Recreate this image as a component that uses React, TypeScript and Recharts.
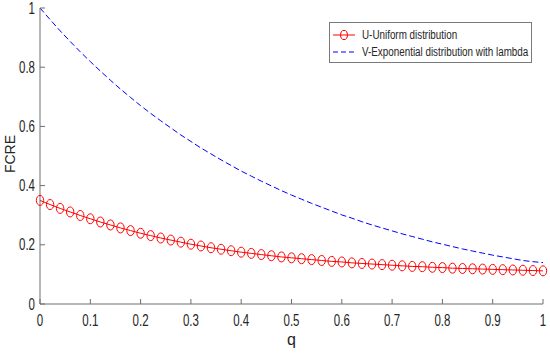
import { LineChart, Line, XAxis, YAxis, Label } from 'recharts';

// q grid, step 0.02
const qValues = [
  0, 0.02, 0.04, 0.06, 0.08, 0.1, 0.12, 0.14, 0.16, 0.18,
  0.2, 0.22, 0.24, 0.26, 0.28, 0.3, 0.32, 0.34, 0.36, 0.38,
  0.4, 0.42, 0.44, 0.46, 0.48, 0.5, 0.52, 0.54, 0.56, 0.58,
  0.6, 0.62, 0.64, 0.66, 0.68, 0.7, 0.72, 0.74, 0.76, 0.78,
  0.8, 0.82, 0.84, 0.86, 0.88, 0.9, 0.92, 0.94, 0.96, 0.98, 1,
];

// U - uniform distribution (red, circles)
const uniformValues = [
  0.350, 0.336, 0.323, 0.311, 0.299, 0.288, 0.277, 0.267, 0.257, 0.248,
  0.239, 0.231, 0.223, 0.216, 0.209, 0.202, 0.196, 0.190, 0.185, 0.180,
  0.175, 0.171, 0.167, 0.163, 0.159, 0.156, 0.153, 0.150, 0.147, 0.144,
  0.142, 0.139, 0.137, 0.135, 0.133, 0.131, 0.129, 0.127, 0.126, 0.124,
  0.123, 0.121, 0.120, 0.119, 0.118, 0.117, 0.116, 0.115, 0.114, 0.113, 0.112,
];

// V - exponential distribution with lambda (blue, dashed)
const exponentialValues = [
  1.000, 0.961, 0.923, 0.887, 0.852, 0.819, 0.787, 0.756, 0.726, 0.698,
  0.670, 0.644, 0.619, 0.595, 0.571, 0.549, 0.527, 0.507, 0.487, 0.468,
  0.449, 0.432, 0.415, 0.399, 0.383, 0.368, 0.354, 0.340, 0.327, 0.314,
  0.301, 0.290, 0.278, 0.267, 0.257, 0.247, 0.237, 0.228, 0.219, 0.210,
  0.202, 0.194, 0.186, 0.179, 0.172, 0.165, 0.159, 0.153, 0.147, 0.143, 0.140,
];

const xTicks = [0, 0.1, 0.2, 0.3, 0.4, 0.5, 0.6, 0.7, 0.8, 0.9, 1];
const yTicks = [0, 0.2, 0.4, 0.6, 0.8, 1];

const seriesNames = ['U-Uniform distribution', 'V-Exponential distribution with lambda'];

const data = qValues.map((q, i) => ({ q, u: uniformValues[i], v: exponentialValues[i] }));

const FONT = "'Liberation Sans', Arial, sans-serif";
const AXIS = '#6e6e6e';
const TEXT = '#262626';

function XTick({ x, y, payload }: any) {
  return (
    <text
      x={0}
      y={0}
      transform={`translate(${x},${y}) scale(0.72,1)`}
      textAnchor="middle"
      dy="0.71em"
      fontSize={16}
      fontFamily={FONT}
      fill={TEXT}
    >
      {payload.value}
    </text>
  );
}

function YTick({ x, y, payload }: any) {
  return (
    <text
      x={0}
      y={0}
      transform={`translate(${x},${y}) scale(0.72,1)`}
      textAnchor="end"
      dy="0.355em"
      fontSize={16}
      fontFamily={FONT}
      fill={TEXT}
    >
      {payload.value}
    </text>
  );
}

function Ring(props: any) {
  const { cx, cy, index } = props;
  if (cx == null || cy == null) return <g key={index} />;
  return (
    <ellipse key={index} cx={cx} cy={cy} rx={3.7} ry={5} fill="none" stroke="#ff0000" strokeWidth={1} />
  );
}

function ChartLegend() {
  const row = { display: 'flex', alignItems: 'center', height: 17 } as const;
  const sample = { marginLeft: 2, flexShrink: 0 } as const;
  const txt = {
    display: 'inline-block',
    transform: 'scaleX(0.82)',
    transformOrigin: 'left center',
    whiteSpace: 'nowrap',
  } as const;
  return (
    <div style={{
      position: 'absolute',
      left: 329,
      top: 22,
      width: 203,
      height: 41,
      border: '1px solid #7a7a7a',
      background: '#fff',
      fontFamily: FONT,
      fontSize: 12,
      color: TEXT,
      boxSizing: 'border-box',
      paddingTop: 3,
      overflow: 'hidden',
    }}>
      <div style={row}>
        <svg width={30} height={12} style={sample}>
          <line x1={1} y1={6} x2={23} y2={6} stroke="#ff0000" strokeWidth={1} />
          <ellipse cx={12} cy={6} rx={3.4} ry={4.6} fill="none" stroke="#ff0000" strokeWidth={1} />
        </svg>
        <span style={txt}>{seriesNames[0]}</span>
      </div>
      <div style={row}>
        <svg width={30} height={12} style={sample}>
          <line x1={1} y1={6} x2={23} y2={6} stroke="#0000ff" strokeWidth={1} strokeDasharray="5 3" />
        </svg>
        <span style={txt}>{seriesNames[1]}</span>
      </div>
    </div>
  );
}

export default function App() {
  return (
    <div style={{ position: 'absolute', left: 0, top: 0, width: 550, height: 355, background: '#fff' }}>
      <LineChart
        width={550}
        height={355}
        data={data}
        margin={{ top: 8, right: 7, bottom: 0, left: 0 }}
        style={{ fontFamily: FONT }}
      >
        <XAxis
          dataKey="q"
          type="number"
          domain={[0, 1]}
          ticks={xTicks}
          interval={0}
          height={51}
          stroke={AXIS}
          tickSize={-5}
          tickMargin={16}
          tick={<XTick />}
        >
          <Label value="q" position="insideBottom" offset={10} fontSize={16} fill={TEXT} />
        </XAxis>
        <YAxis
          type="number"
          domain={[0, 1]}
          ticks={yTicks}
          interval={0}
          width={40}
          stroke={AXIS}
          tickSize={-5}
          tickMargin={10}
          tick={<YTick />}
        >
          <Label
            content={() => (
              <text
                x={15}
                y={154}
                transform="rotate(-90 15 154)"
                textAnchor="middle"
                fontSize={14}
                fontFamily={FONT}
                fill={TEXT}
              >
                FCRE
              </text>
            )}
          />
        </YAxis>
        <Line
          type="linear"
          dataKey="v"
          name={seriesNames[1]}
          stroke="#0000ff"
          strokeWidth={1}
          strokeDasharray="6 3"
          dot={false}
          isAnimationActive={false}
        />
        <Line
          type="linear"
          dataKey="u"
          name={seriesNames[0]}
          stroke="#ff0000"
          strokeWidth={1}
          dot={<Ring />}
          isAnimationActive={false}
        />
      </LineChart>
      <ChartLegend />
    </div>
  );
}
